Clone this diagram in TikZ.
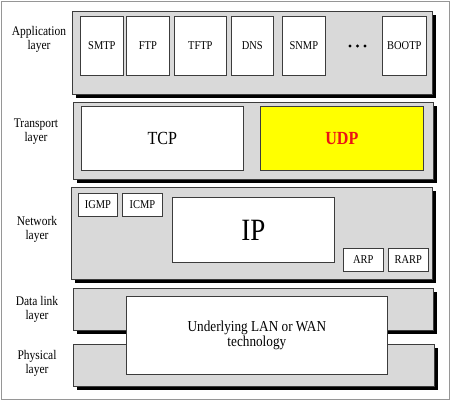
\documentclass[tikz,border=0pt]{standalone}
\usepackage{fontspec}
\setmainfont{Liberation Serif}[FakeStretch=0.87]
\usetikzlibrary{shadows}
\definecolor{bandgray}{RGB}{217,217,217}
\definecolor{edgegray}{RGB}{60,60,60}
\definecolor{framegray}{RGB}{150,150,150}
\definecolor{udpyellow}{RGB}{255,255,0}
\definecolor{udpred}{RGB}{235,20,20}
\tikzset{
  band/.style={draw=edgegray, line width=0.8pt, fill=bandgray, anchor=north west, inner sep=0pt,
    drop shadow={shadow xshift=4pt, shadow yshift=-4pt, fill=black, opacity=1}},
  proto/.style={draw=edgegray, line width=0.7pt, fill=white, anchor=north west, inner sep=0pt,
    font=\fontsize{12}{13}\selectfont},
  lbl/.style={align=center, font=\fontsize{13.2}{14}\selectfont}
}
\begin{document}
\begin{tikzpicture}[x=1pt,y=-1pt]
\useasboundingbox (0,0) rectangle (450,400);
\draw[framegray, line width=1pt] (1,1) rectangle (449,399) node[coordinate] (frame) {};
% Application layer
\node[band, minimum width=360pt, minimum height=83pt] (appband) at (72,11) {};
\node[proto, minimum width=43pt, minimum height=59pt] (smtp) at (80,16) {SMTP};
\node[proto, minimum width=43pt, minimum height=59pt] (ftp) at (126,16) {FTP};
\node[proto, minimum width=52pt, minimum height=59pt] (tftp) at (174,16) {TFTP};
\node[proto, minimum width=42pt, minimum height=59pt] (dns) at (231,16) {DNS};
\node[proto, minimum width=43pt, minimum height=59pt] (snmp) at (282,16) {SNMP};
\node[proto, minimum width=44pt, minimum height=59pt] (bootp) at (382,16) {BOOTP};
\foreach \i/\xx in {1/350,2/357.5,3/365}{
  \fill[black] (\xx,46) circle (1.7pt) node[coordinate] (dot\i) {};
}
\node[lbl] (applbl) at (39,39) {Application\\layer};
% Transport layer
\node[band, minimum width=360pt, minimum height=77pt] (trband) at (73,102) {};
\node[proto, minimum width=162pt, minimum height=64pt, font=\fontsize{18.5}{20}\selectfont] (tcp) at (81,106) {TCP};
\node[proto, fill=udpyellow, minimum width=163pt, minimum height=64pt, font=\fontsize{18.5}{20}\selectfont\bfseries, text=udpred] (udp) at (260,106) {UDP};
\node[lbl] (trlbl) at (36,132) {Transport\\layer};
% Network layer
\node[band, minimum width=361pt, minimum height=92pt] (netband) at (71,187) {};
\node[proto, minimum width=39pt, minimum height=23pt] (igmp) at (78,193) {IGMP};
\node[proto, minimum width=40pt, minimum height=23pt] (icmp) at (122,193) {ICMP};
\node[proto, minimum width=162pt, minimum height=65pt, font=\fontsize{31}{33}\selectfont] (ip) at (172,197) {IP};
\node[proto, minimum width=40pt, minimum height=23pt] (arp) at (343,248) {ARP};
\node[proto, minimum width=40pt, minimum height=23pt] (rarp) at (388,248) {RARP};
\node[lbl] (netlbl) at (37,229) {Network\\layer};
% Data link and physical
\node[band, minimum width=360pt, minimum height=42pt] (dlband) at (73,288) {};
\node[band, minimum width=361pt, minimum height=42pt] (phband) at (73,344) {};
\node[proto, align=center, minimum width=261pt, minimum height=78pt, font=\fontsize{15.2}{15.5}\selectfont] (lan) at (126,296) {Underlying LAN or WAN\\technology};
\node[lbl] (dllbl) at (37,309) {Data link\\layer};
\node[lbl] (phlbl) at (37,363) {Physical\\layer};
\end{tikzpicture}
\end{document}
